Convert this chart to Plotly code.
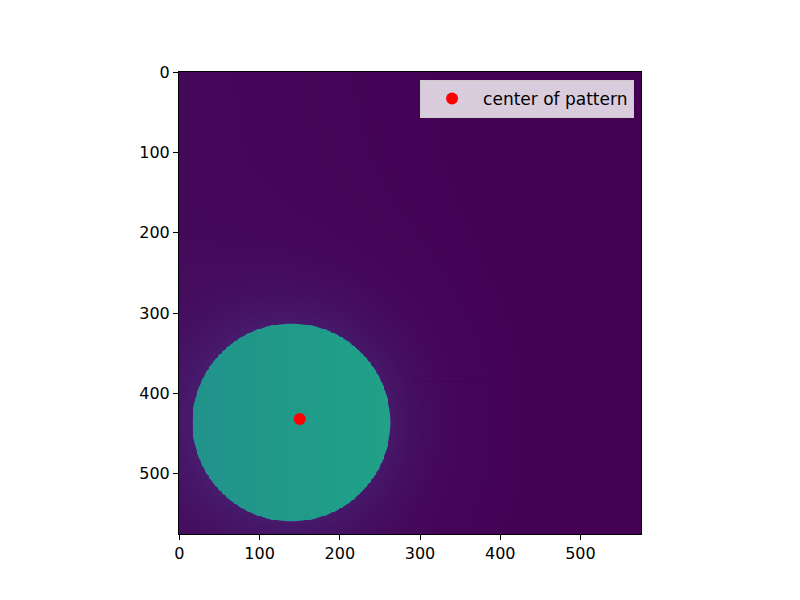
import numpy as np
import plotly.graph_objects as go

# detector frame size (pixels)
frame_size = 576

# pattern geometry (pixel units)
disk_center_x = 139.6
disk_center_y = 436.5
disk_radius = 122.7

# intensity levels (0..1 on the viridis scale)
background_level = 0.0
background_left_level = 0.02
disk_level_left = 0.51
disk_level_right = 0.57
halo_level = 0.06
halo_width = 55.0
streak_row = 385
streak_cols = [290, 400]

# fitted center of the pattern
center_x = [150]
center_y = [432]
center_label = "center of pattern"

cols = np.arange(frame_size)
rows = np.arange(frame_size)
xx, yy = np.meshgrid(cols, rows)
dist = np.hypot(xx - disk_center_x, yy - disk_center_y)

img = background_level + background_left_level * (1 - xx / frame_size) ** 2
outside = np.clip(dist - disk_radius, 0, None)
img = img + halo_level * np.exp(-outside / halo_width)
frac = np.clip((xx - (disk_center_x - disk_radius)) / (2 * disk_radius), 0, 1)
disk_val = disk_level_left + (disk_level_right - disk_level_left) * frac
edge = np.clip(disk_radius + 1 - dist, 0, 1)
img = img * (1 - edge) + disk_val * edge
img[streak_row, streak_cols[0]:streak_cols[1]] -= 0.015

fig = go.Figure()
fig.add_trace(go.Heatmap(
    z=img.astype(np.float32),
    colorscale="Viridis",
    zmin=0, zmax=1,
    showscale=False,
    hoverinfo="skip",
))
fig.add_trace(go.Scatter(
    x=center_x, y=center_y,
    mode="markers",
    marker=dict(color="red", size=12),
    name=center_label,
    showlegend=True,
))

axis_style = dict(
    showline=True, linecolor="black", linewidth=1, mirror=True,
    ticks="outside", ticklen=5, tickcolor="black",
    tickvals=[0, 100, 200, 300, 400, 500],
    showgrid=False, zeroline=False,
    tickfont=dict(family="DejaVu Sans", size=16, color="black"),
)
fig.update_xaxes(range=[-0.5, frame_size - 0.5], constrain="domain", **axis_style)
fig.update_yaxes(range=[frame_size - 0.5, -0.5], scaleanchor="x", **axis_style)

# the page adds an 8px body margin, so margins are shifted by 8
fig.update_layout(
    width=800, height=600,
    margin=dict(l=171, r=167, t=64, b=74),
    plot_bgcolor="white", paper_bgcolor="white",
    font=dict(family="DejaVu Sans", size=16, color="black"),
    legend=dict(
        x=0.985, y=0.983, xanchor="right", yanchor="top",
        bgcolor="rgba(255,255,255,0.8)",
        bordercolor="#cccccc", borderwidth=1,
        font=dict(size=17),
        itemwidth=52,
    ),
)

fig.write_html("out.html")
